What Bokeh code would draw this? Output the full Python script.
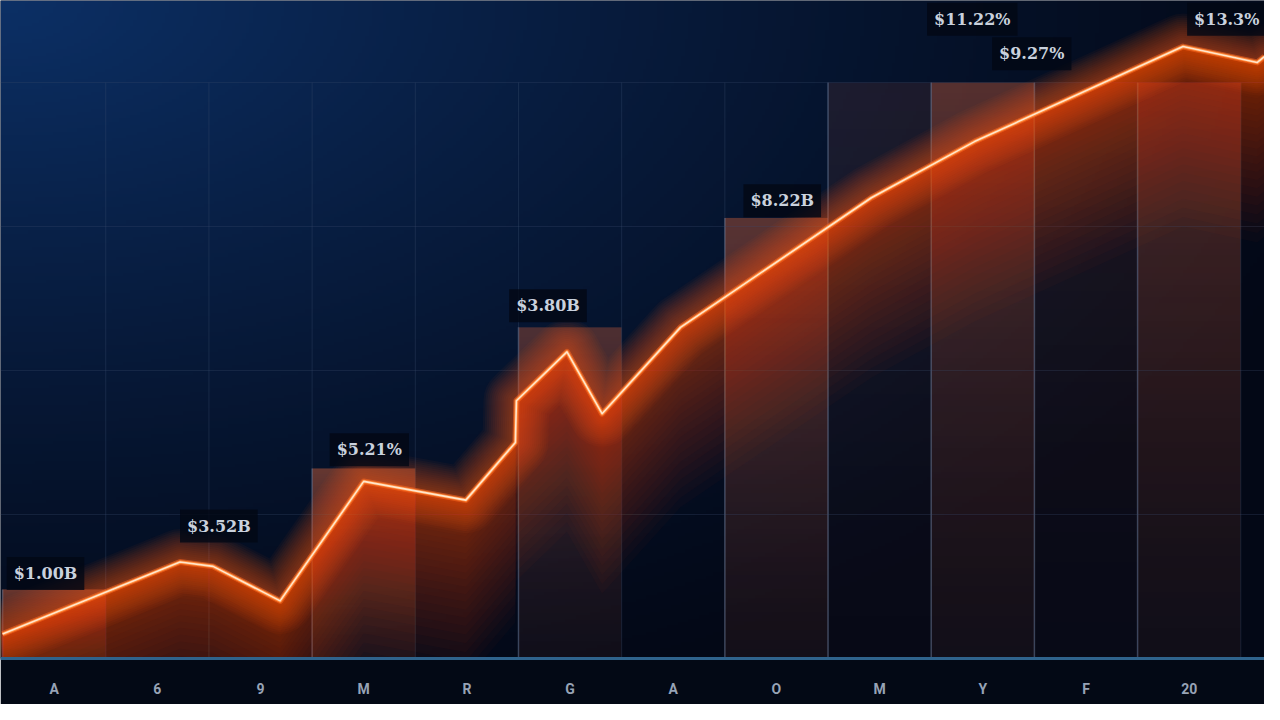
import numpy as np
from bokeh.plotting import figure
from bokeh.models import Range1d, FixedTicker
from bokeh.core.properties import value
from bokeh.embed import file_html
from bokeh.resources import INLINE

# ---------------- data ----------------
tick_labels = ["A", "6", "9", "M", "R", "G", "A", "O", "M", "Y", "F", "20"]

line_x = [0.0, 1.72, 2.04, 2.69, 3.50, 4.49, 4.97, 4.98, 5.47, 5.81, 6.57, 8.42, 9.42, 11.44, 12.16, 12.23]
line_y = [0.17, 0.67, 0.64, 0.40, 1.23, 1.10, 1.50, 1.79, 2.13, 1.70, 2.30, 3.20, 3.59, 4.25, 4.14, 4.18]

bar_cols = [0, 3, 5, 7, 8, 9, 10, 11]
bar_tops = [0.48, 1.32, 2.30, 3.06, 4.0, 4.0, 4.0, 4.0]

label_text = ["$1.00B", "$3.52B", "$5.21%", "$3.80B", "$8.22B", "$11.22%", "$9.27%", "$13.3%"]
label_x = [0.04, 1.72, 3.17, 4.91, 7.18, 8.96, 9.59, 11.48]
label_y = [0.59, 0.92, 1.45, 2.45, 3.18, 4.44, 4.20, 4.44]

# ---------------- style ----------------
bar_glow = [0.50, 0.48, 0.36, 0.42, 0.12, 0.40, 0.14, 0.36]
X0, X1 = -0.02, 12.23
Y0, Y1 = 0.0, 4.57

p = figure(width=1264, height=704, output_backend="svg", toolbar_location=None,
           x_range=Range1d(X0, X1), y_range=Range1d(Y0, Y1),
           min_border_left=0, min_border_right=0, min_border_top=0, min_border_bottom=46)
p.outline_line_color = None
p.border_fill_color = "#030915"
p.background_fill_color = "#040c1e"
p.grid.visible = False
p.yaxis.visible = False


def rgba_image(rgb, alpha):
    h, w = alpha.shape
    out = np.empty((h, w), dtype=np.uint32)
    v = out.view(dtype=np.uint8).reshape((h, w, 4))
    v[..., 0:3] = rgb.astype(np.uint8)
    v[..., 3] = np.clip(alpha * 255, 0, 255).astype(np.uint8)
    return out


# background gradient (blue top-left -> near black)
H, W = 200, 360
yy, xx = np.mgrid[0:H, 0:W]
px = (xx + 0.5) / W * 1280
py = (1 - (yy + 0.5) / H) * 670
d = np.sqrt((px / 1450) ** 2 + (py / 780) ** 2)
w = np.clip(1 - d, 0, 1) ** 1.3
dark = np.array([3, 8, 22])
blue = np.array([12, 48, 102])
bg = dark + (blue - dark) * w[..., None]
p.image_rgba(image=[rgba_image(bg, np.ones((H, W)))], x=X0, y=Y0, dw=X1 - X0, dh=Y1 - Y0)

# bars with a smooth vertical fade (bright at top, dim at bottom)
N = 96
rows = (np.arange(N) + 0.5) / N
bar_rgb = np.tile(np.array([208, 96, 58]), (N, 2, 1))
for c, top, s in zip(bar_cols, bar_tops, bar_glow):
    alpha = s * (0.2 + 0.8 * rows ** 1.3)
    p.image_rgba(image=[rgba_image(bar_rgb, np.tile(alpha[:, None], (1, 2)))],
                 x=c, y=0, dw=1, dh=top)
    p.segment(x0=[c], y0=[0], x1=[c], y1=[top], line_color="#9aa8c8", line_alpha=0.35, line_width=1.5)

# grid
n = len(tick_labels)
p.segment(x0=list(range(1, n + 1)), y0=[0] * n, x1=list(range(1, n + 1)), y1=[4.0] * n,
          line_color="#3a4c6e", line_alpha=0.35, line_width=1)
p.segment(x0=[X0] * 4, y0=[1, 2, 3, 4], x1=[X1] * 4, y1=[1, 2, 3, 4],
          line_color="#3a4c6e", line_alpha=0.3, line_width=1)

# glow area under the line
ly = np.array(line_y)
for k in range(1, 31):
    dd = 1.25 * (k / 30) ** 1.6
    p.varea(x=line_x, y1=list(ly - dd), y2=line_y, fill_color="#ff5212", fill_alpha=0.028)

# glowing line
for k in range(16):
    lw = 66 - k * 4
    p.line(line_x, line_y, line_color="#ff5a14", line_width=lw, line_alpha=0.045,
           line_join="round", line_cap="round")
p.line(line_x, line_y, line_color="#ff6a20", line_width=6, line_alpha=0.5, line_join="round")
p.line(line_x, line_y, line_color="#ff8a3c", line_width=3.5, line_join="round")
p.line(line_x, line_y, line_color="#ffe6cc", line_width=1.6, line_join="round")

# value labels
p.text(x=label_x, y=label_y, text=label_text, text_font=value("DejaVu Serif"),
       text_font_style="bold", text_font_size="16px", text_color="#c9d1dd",
       text_align="left", text_baseline="middle",
       background_fill_color="#030814", background_fill_alpha=0.8, padding=7)

# x axis
ticks = [i + 0.5 for i in range(n)]
p.xaxis.ticker = FixedTicker(ticks=ticks)
p.xaxis.major_label_overrides = {t: lab for t, lab in zip(ticks, tick_labels)}
p.xaxis.axis_line_color = "#2f638c"
p.xaxis.axis_line_width = 3
p.xaxis.major_tick_line_color = None
p.xaxis.minor_tick_line_color = None
p.xaxis.major_label_standoff = 16
p.xaxis.major_label_text_color = "#97a3b6"
p.xaxis.major_label_text_font = "Roboto"
p.xaxis.major_label_text_font_style = "bold"
p.xaxis.major_label_text_font_size = "14px"

open("out.html", "w").write(file_html(p, INLINE))
